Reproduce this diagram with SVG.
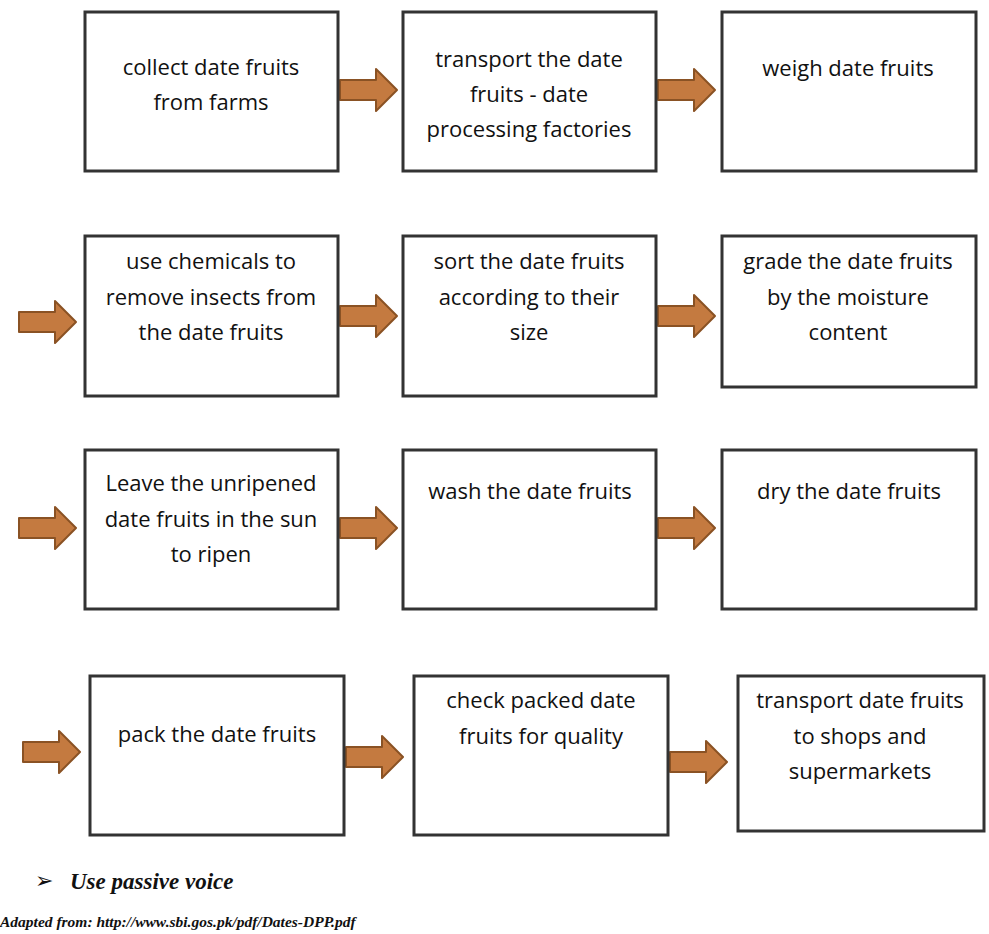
<svg xmlns="http://www.w3.org/2000/svg" xmlns:xlink="http://www.w3.org/1999/xlink" width="989" height="934" viewBox="0 0 989 934">
<style>
.box{fill:#fff;stroke:#333;stroke-width:3}
.t{font-family:"Open Sans","Liberation Sans",sans-serif;font-size:22px;fill:#111;text-anchor:middle}
.arr{fill:#C47A40;stroke:#8A5224;stroke-width:2;stroke-linejoin:round}
.bi{font-family:"Liberation Serif",serif;font-weight:bold;font-style:italic;fill:#111}
</style>
<defs>
<path id="arrow" class="arr" d="M0,-10 H36 V-21 L57,0 L36,21 V10 H0 Z"/>
</defs>
<rect width="989" height="934" fill="#fff"/>
<g id="connectors">
<use xlink:href="#arrow" x="340" y="90"/>
<use xlink:href="#arrow" x="658" y="90"/>
<use xlink:href="#arrow" x="19" y="322"/>
<use xlink:href="#arrow" x="340" y="316"/>
<use xlink:href="#arrow" x="658" y="316"/>
<use xlink:href="#arrow" x="19" y="528"/>
<use xlink:href="#arrow" x="340" y="528"/>
<use xlink:href="#arrow" x="658" y="528"/>
<use xlink:href="#arrow" x="23" y="752"/>
<use xlink:href="#arrow" x="346" y="757"/>
<use xlink:href="#arrow" x="670" y="762"/>
</g>
<g id="n1"><rect class="box" x="85" y="12" width="253" height="159"/>
<text class="t" x="211"><tspan x="211" y="75">collect date fruits</tspan><tspan x="211" y="110">from farms</tspan></text></g>
<g id="n2"><rect class="box" x="403" y="12" width="253" height="159"/>
<text class="t"><tspan x="529" y="67">transport the date</tspan><tspan x="529" y="102">fruits - date</tspan><tspan x="529" y="137">processing factories</tspan></text></g>
<g id="n3"><rect class="box" x="722" y="12" width="254" height="159"/>
<text class="t"><tspan x="848" y="76">weigh date fruits</tspan></text></g>
<g id="n4"><rect class="box" x="85" y="236" width="253" height="160"/>
<text class="t"><tspan x="211" y="269">use chemicals to</tspan><tspan x="211" y="305">remove insects from</tspan><tspan x="211" y="340">the date fruits</tspan></text></g>
<g id="n5"><rect class="box" x="403" y="236" width="253" height="160"/>
<text class="t"><tspan x="529" y="269">sort the date fruits</tspan><tspan x="529" y="305">according to their</tspan><tspan x="529" y="340">size</tspan></text></g>
<g id="n6"><rect class="box" x="722" y="236" width="254" height="151"/>
<text class="t"><tspan x="848" y="269">grade the date fruits</tspan><tspan x="848" y="305">by the moisture</tspan><tspan x="848" y="340">content</tspan></text></g>
<g id="n7"><rect class="box" x="85" y="450" width="253" height="159"/>
<text class="t"><tspan x="211" y="491">Leave the unripened</tspan><tspan x="211" y="527">date fruits in the sun</tspan><tspan x="211" y="562">to ripen</tspan></text></g>
<g id="n8"><rect class="box" x="403" y="450" width="253" height="159"/>
<text class="t"><tspan x="530" y="499">wash the date fruits</tspan></text></g>
<g id="n9"><rect class="box" x="722" y="450" width="254" height="159"/>
<text class="t"><tspan x="849" y="499">dry the date fruits</tspan></text></g>
<g id="n10"><rect class="box" x="90" y="676" width="254" height="159"/>
<text class="t"><tspan x="217" y="742">pack the date fruits</tspan></text></g>
<g id="n11"><rect class="box" x="414" y="676" width="254" height="159"/>
<text class="t"><tspan x="541" y="708">check packed date</tspan><tspan x="541" y="744">fruits for quality</tspan></text></g>
<g id="n12"><rect class="box" x="738" y="676" width="246" height="155"/>
<text class="t"><tspan x="860" y="708">transport date fruits</tspan><tspan x="860" y="744">to shops and</tspan><tspan x="860" y="779">supermarkets</tspan></text></g>
<text x="35" y="888" style="font-family:'DejaVu Sans',sans-serif;font-size:22px;fill:#111">➢</text>
<text class="bi" x="70" y="889" font-size="23">Use passive voice</text>
<text class="bi" x="0" y="927" font-size="15.5">Adapted from: http://www.sbi.gos.pk/pdf/Dates-DPP.pdf</text>
</svg>
